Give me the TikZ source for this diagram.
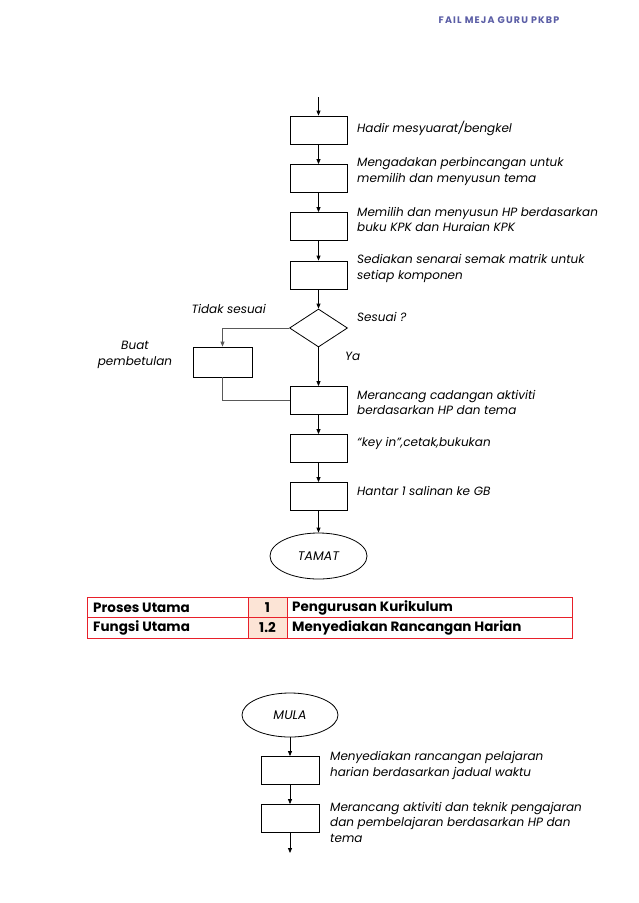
\documentclass[tikz,border=0pt]{standalone}
\usepackage{fontspec}
\setmainfont{Poppins}
\usetikzlibrary{arrows.meta,shapes.geometric}
\definecolor{hdr}{HTML}{5B5EA6}
\definecolor{tred}{HTML}{E8202A}
\definecolor{peach}{HTML}{FCE4D6}
\tikzset{
  stepbox/.style={draw=black,line width=0.8pt,minimum width=57pt,minimum height=28pt,inner sep=0pt},
  term/.style={draw=black,line width=0.8pt,ellipse,minimum width=97pt,minimum height=46pt,inner sep=0pt,font=\fontsize{12.5}{14}\selectfont\itshape},
  decide/.style={draw=black,line width=0.8pt,diamond,minimum width=58pt,minimum height=38pt,inner sep=0pt,aspect=1.5},
  lbl/.style={anchor=west,align=left,inner sep=0pt,font=\fontsize{12}{15.5}\selectfont\itshape},
  flow/.style={line width=0.8pt,-{Triangle[length=5pt,width=4pt]}},
  grayline/.style={line width=0.8pt,draw=black!65},
  cell/.style={font=\fontsize{13.5}{15}\selectfont\bfseries,inner sep=0pt}
}
\begin{document}
\begin{tikzpicture}[x=1pt,y=-1pt]
\useasboundingbox (0,0) rectangle (638,903);
\fill[white] (0,0) rectangle (638,903);
% header
\node[font=\fontsize{9.5}{10}\selectfont\bfseries\addfontfeature{LetterSpace=12},text=hdr,inner sep=0pt] (hdr) at (499,20) {FAIL MEJA GURU PKBP};
% top flowchart
\coordinate (top) at (318.5,97);
\node[stepbox] (b1) at (318.5,130) {};
\node[stepbox] (b2) at (318.5,178.5) {};
\node[stepbox] (b3) at (318.5,226.5) {};
\node[stepbox] (b4) at (318.5,275) {};
\node[decide] (d) at (318.5,328) {};
\node[stepbox,minimum width=59pt,minimum height=30pt] (fix) at (222.5,362) {};
\node[stepbox] (b5) at (318.5,400.5) {};
\node[stepbox] (b6) at (318.5,448.5) {};
\node[stepbox] (b7) at (318.5,496.5) {};
\node[term] (tamat) at (318.5,556) {TAMAT};

\draw[flow] (top) -- (b1);
\draw[flow] (b1) -- (b2);
\draw[flow] (b2) -- (b3);
\draw[flow] (b3) -- (b4);
\draw[flow] (b4) -- (d);
\draw[flow] (d) -- (b5);
\draw[flow] (b5) -- (b6);
\draw[flow] (b6) -- (b7);
\draw[flow] (b7) -- (tamat);
\draw[grayline,-{Triangle[length=5pt,width=4pt]}] (d.west) -| (fix.north);
\draw[grayline] (fix.south) |- (b5.west);

\node[lbl] (t1) at (357,128) {Hadir mesyuarat/bengkel};
\node[lbl] (t2) at (357,171.5) {Mengadakan perbincangan untuk\\memilih dan menyusun tema};
\node[lbl] (t3) at (357,219.5) {Memilih dan menyusun HP berdasarkan\\buku KPK dan Huraian KPK};
\node[lbl] (t4) at (357,268.5) {Sediakan senarai semak matrik untuk\\setiap komponen};
\node[lbl] (tq) at (357,317) {Sesuai ?};
\node[lbl,anchor=east] (tno) at (266,309) {Tidak sesuai};
\node[lbl,anchor=center,align=center] (tfix) at (135,355) {Buat\\pembetulan};
\node[lbl] (tya) at (345,356) {Ya};
\node[lbl] (t5) at (357,402.5) {Merancang cadangan aktiviti\\berdasarkan HP dan tema};
\node[lbl] (t6) at (357,443) {“key in”,cetak,bukukan};
\node[lbl] (t7) at (357,491) {Hantar 1 salinan ke GB};

% table
\fill[peach] (248,597) rectangle (287,638);
\draw[tred,line width=1pt] (87,597) rectangle (572,638);
\draw[tred,line width=0.8pt] (87,617.5) -- (572,617.5);
\draw[tred,line width=0.8pt] (248,597) -- (248,638);
\draw[tred,line width=0.8pt] (287,597) -- (287,638);
\node[cell,anchor=west] (c11) at (93,607.5) {Proses Utama};
\node[cell] (c12) at (267.5,607.5) {1};
\node[cell,anchor=west] (c13) at (292,607.5) {Pengurusan Kurikulum};
\node[cell,anchor=west] (c21) at (93,628) {Fungsi Utama};
\node[cell] (c22) at (267.5,628) {1.2};
\node[cell,anchor=west] (c23) at (292,628) {Menyediakan Rancangan Harian};

% bottom flowchart
\node[term,minimum width=96pt,minimum height=44pt] (mula) at (290,715) {MULA};
\node[stepbox,minimum width=58pt] (m1) at (290,770.5) {};
\node[stepbox,minimum width=58pt] (m2) at (290,818.5) {};
\coordinate (bot) at (290,853);
\draw[flow] (mula) -- (m1);
\draw[flow] (m1) -- (m2);
\draw[flow] (m2) -- (bot);
\node[lbl] (u1) at (330,765.5) {Menyediakan rancangan pelajaran\\harian berdasarkan jadual waktu};
\node[lbl] (u2) at (330,822) {Merancang aktiviti dan teknik pengajaran\\dan pembelajaran berdasarkan HP dan\\tema};
\end{tikzpicture}
\end{document}
